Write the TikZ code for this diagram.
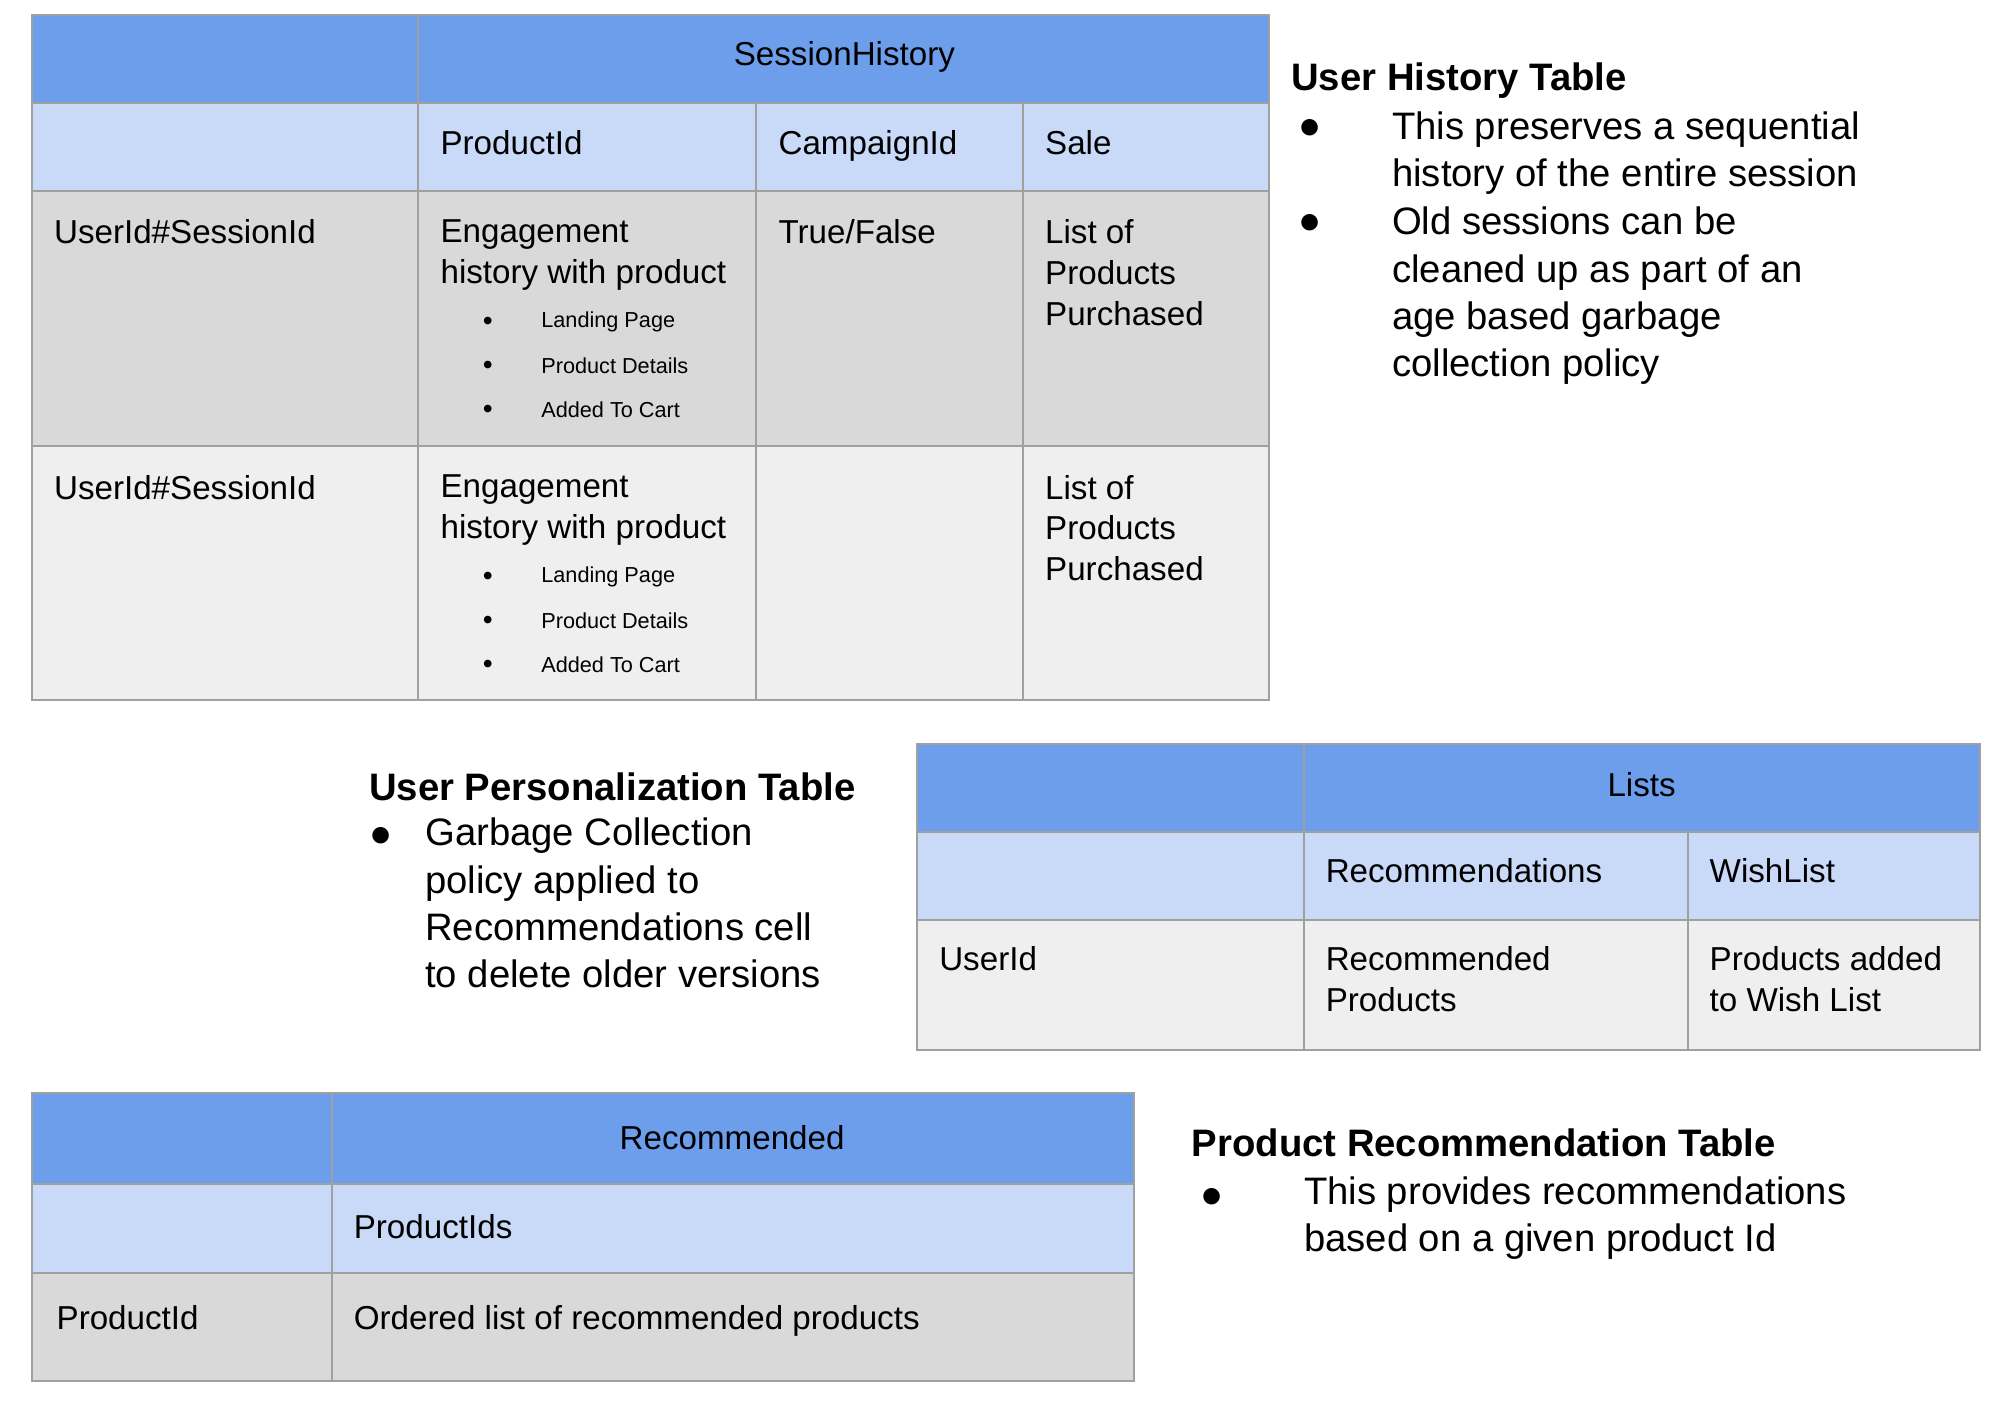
\documentclass[tikz,border=0pt]{standalone}
\usepackage{fontspec}
\setmainfont{Liberation Sans}
\definecolor{hdblue}{RGB}{109,158,235}
\definecolor{subblue}{RGB}{201,218,248}
\definecolor{rowdark}{RGB}{217,217,217}
\definecolor{rowlight}{RGB}{239,239,239}
\definecolor{gridgrey}{RGB}{160,160,160}
\tikzset{
  cell/.style={draw=gridgrey,line width=0.8pt},
  celltext/.style={anchor=north west,inner sep=0pt,align=left,font=\fontsize{13}{16}\selectfont},
  smalltext/.style={anchor=west,inner sep=0pt,font=\fontsize{8.5}{10}\selectfont},
  headtext/.style={inner sep=0pt,font=\fontsize{13}{16}\selectfont},
  titletext/.style={anchor=west,inner sep=0pt,font=\bfseries\fontsize{15}{18}\selectfont},
  notetext/.style={anchor=north west,inner sep=0pt,align=left,font=\fontsize{15}{18.5}\selectfont},
  dot/.style={anchor=center,inner sep=0pt,font=\fontsize{15}{18}\selectfont}
}
\newcommand{\engage}[3]{% x, y top, name prefix
  \node[celltext] (#3e) at (#1,#2) {Engagement\\history with product};
  \foreach \i/\t in {0/Landing Page,1/Product Details,2/Added To Cart}{
    \node[smalltext] (#3b\i) at (378,#2+80+\i*34.5) {\scriptsize$\bullet$};
    \node[smalltext] (#3t\i) at (424,#2+80+\i*34.5) {\t};
  }}
\begin{document}
\begin{tikzpicture}[x=0.5pt,y=-0.5pt]
\useasboundingbox[fill=white] (0,0) rectangle (1568,1111);
% User history table
\fill[hdblue] (25,12) rectangle (995,81);
\fill[subblue] (25,81) rectangle (995,150);
\fill[rowdark] (25,150) rectangle (995,350);
\fill[rowlight] (25,350) rectangle (995,549);
\draw[cell] (25,12) rectangle (995,549);
\draw[cell] (25,81) -- (995,81) (25,150) -- (995,150) (25,350) -- (995,350);
\draw[cell] (328,12) -- (328,549) (593,81) -- (593,549) (802,81) -- (802,549);
\node[headtext] (sh) at (662,45) {SessionHistory};
\node[celltext] (pid) at (345,102) {ProductId};
\node[celltext] (cid) at (610,102) {CampaignId};
\node[celltext] (sale) at (819,102) {Sale};
\node[celltext] (uid1) at (42,172) {UserId\#SessionId};
\engage{345}{172}{ea}
\node[celltext] (tf) at (610,172) {True/False};
\node[celltext] (lp1) at (819,172) {List of\\Products\\Purchased};
\node[celltext] (uid2) at (42,372) {UserId\#SessionId};
\engage{345}{372}{eb}
\node[celltext] (lp2) at (819,372) {List of\\Products\\Purchased};
% notes
\node[titletext] (uht) at (1012,63) {User History Table};
\node[dot] (ub1) at (1027,101) {●};
\node[notetext] (un1) at (1091,87) {This preserves a sequential\\history of the entire session};
\node[dot] (ub2) at (1027,176) {●};
\node[notetext] (un2) at (1091,162) {Old sessions can be\\cleaned up as part of an\\age based garbage\\collection policy};
% personalization table
\fill[hdblue] (719,583) rectangle (1552,652);
\fill[subblue] (719,652) rectangle (1552,721);
\fill[rowlight] (719,721) rectangle (1552,823);
\draw[cell] (719,583) rectangle (1552,823);
\draw[cell] (719,652) -- (1552,652) (719,721) -- (1552,721);
\draw[cell] (1022,583) -- (1022,823) (1323,652) -- (1323,823);
\node[headtext] (lists) at (1287,615) {Lists};
\node[celltext] (rec) at (1039,673) {Recommendations};
\node[celltext] (wl) at (1340,673) {WishList};
\node[celltext] (uid3) at (736,742) {UserId};
\node[celltext] (rp) at (1039,742) {Recommended\\Products};
\node[celltext] (pw) at (1340,742) {Products added\\to Wish List};
\node[titletext] (upt) at (289,617) {User Personalization Table};
\node[dot] (pb1) at (299,656) {●};
\node[notetext] (pn1) at (333,641) {Garbage Collection\\policy applied to\\Recommendations cell\\to delete older versions};
% recommendation table
\fill[hdblue] (25,857) rectangle (889,928);
\fill[subblue] (25,928) rectangle (889,998);
\fill[rowdark] (25,998) rectangle (889,1083);
\draw[cell] (25,857) rectangle (889,1083);
\draw[cell] (25,928) -- (889,928) (25,998) -- (889,998) (260,857) -- (260,1083);
\node[headtext] (recd) at (574,892) {Recommended};
\node[celltext] (pids) at (277,952) {ProductIds};
\node[celltext] (pid2) at (44,1023) {ProductId};
\node[celltext] (ol) at (277,1023) {Ordered list of recommended products};
\node[titletext] (prt) at (934,896) {Product Recommendation Table};
\node[dot] (rb1) at (950,939) {●};
\node[notetext] (rn1) at (1022,922) {This provides recommendations\\based on a given product Id};
\end{tikzpicture}
\end{document}
